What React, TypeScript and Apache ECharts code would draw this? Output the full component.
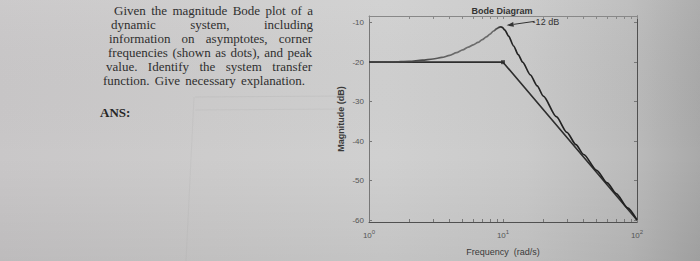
import React, { useEffect, useRef } from "react";
import * as echarts from "echarts";

// Bode magnitude curve (rad/s, dB)
const curveFreq = [1, 1.5, 2, 2.5, 3, 3.5, 4, 4.5, 5, 5.5, 6, 6.5, 7, 7.5, 8, 8.5, 9, 9.3, 9.6, 9.9, 10.3, 11, 12, 13, 14, 16, 18, 20, 25, 30, 35, 40, 50, 60, 70, 85, 100];
const curveMag = [-20, -19.95, -19.8, -19.5, -19.2, -18.8, -18.3, -17.6, -16.9, -16.2, -15.6, -15.0, -14.3, -13.6, -12.9, -12.1, -11.5, -11.2, -11.05, -11.2, -11.8, -13.4, -15.9, -18.1, -20.0, -23.2, -26.0, -28.6, -33.8, -37.8, -40.9, -43.4, -47.4, -50.6, -53.3, -56.9, -60];

// Asymptotes
const asymFreq = [1, 10, 100];
const asymMag = [-20, -20, -60];

// Corner frequency dot
const cornerFreq = [10];
const cornerMag = [-20];

// Peak annotation
const peakPoint = [9.6, -11.05];
const peakLabel = "-12 dB";

// Ticks
const xTickValues = [1, 2, 3, 4, 5, 6, 7, 8, 9, 10, 20, 30, 40, 50, 60, 70, 80, 90, 100];
const xLabelValues = [1, 10, 100];
const yLabelValues = [-60, -50, -40, -30, -20, -10];

const questionLines = [
  "Given the magnitude Bode plot of a",
  "dynamic system, including",
  "information on asymptotes, corner",
  "frequencies (shown as dots), and peak",
  "value. Identify the system transfer",
  "function. Give necessary explanation.",
];
const answerLabel = "ANS:";

const W = 700;
const H = 261;

export default function App() {
  const ref = useRef<HTMLDivElement>(null);

  useEffect(() => {
    if (!ref.current) return;
    const chart = echarts.init(ref.current, undefined, { renderer: "svg", width: W, height: H });

    const serif = "'Liberation Serif', 'Times New Roman', serif";
    const sans = "'Liberation Sans', Arial, sans-serif";
    const textColor = "#2f2f2f";

    // justified paragraph
    const canvas = document.createElement("canvas");
    const ctx = canvas.getContext("2d")!;
    ctx.font = "13px 'Liberation Serif'";
    const lineLeft = [114, 111, 109, 108, 106, 103];
    const lineRight = [313, 313, 312, 312, 312, 305];
    const lineY = [10, 24, 38.3, 52.7, 66.7, 80.7];
    const paraEls: any[] = [];
    questionLines.forEach((line, i) => {
      const words = line.split(" ");
      const widths = words.map((w) => ctx.measureText(w).width);
      const total = widths.reduce((a, b) => a + b, 0);
      const gap = words.length > 1 ? (lineRight[i] - lineLeft[i] - total) / (words.length - 1) : 0;
      let x = lineLeft[i];
      words.forEach((w, j) => {
        paraEls.push({
          type: "text",
          id: `w${i}_${j}`,
          x,
          y: lineY[i],
          silent: true,
          style: { text: w, fontFamily: serif, fontSize: 13, fill: textColor, verticalAlign: "middle", align: "left" },
        });
        x += widths[j] + gap;
      });
    });

    const bgEls: any[] = [
      {
        type: "rect",
        id: "bg",
        z: -100,
        silent: true,
        shape: { x: 0, y: 0, width: W, height: H },
        style: {
          fill: {
            type: "linear",
            x: 0,
            y: 0,
            x2: 1,
            y2: 0,
            colorStops: [
              { offset: 0, color: "#c9c7c8" },
              { offset: 0.3, color: "#cdcccc" },
              { offset: 0.55, color: "#d0d0d0" },
              { offset: 0.75, color: "#cacaca" },
              { offset: 0.9, color: "#bcbcbc" },
              { offset: 1, color: "#a9a9a9" },
            ],
          },
        },
      },
      {
        type: "rect",
        id: "bgv",
        z: -99,
        silent: true,
        shape: { x: 0, y: 0, width: W, height: H },
        style: {
          fill: {
            type: "linear",
            x: 0,
            y: 0,
            x2: 0,
            y2: 1,
            colorStops: [
              { offset: 0, color: "rgba(255,255,255,0.05)" },
              { offset: 0.6, color: "rgba(0,0,0,0)" },
              { offset: 1, color: "rgba(0,0,0,0.06)" },
            ],
          },
        },
      },
      { type: "line", id: "g1", z: -97, silent: true, shape: { x1: 195, y1: 97, x2: 345, y2: 96 }, style: { stroke: "rgba(150,150,150,0.15)", lineWidth: 1 } },
      { type: "line", id: "g2", z: -97, silent: true, shape: { x1: 195, y1: 110, x2: 345, y2: 109 }, style: { stroke: "rgba(150,150,150,0.12)", lineWidth: 1 } },
      { type: "line", id: "g3", z: -97, silent: true, shape: { x1: 194, y1: 97, x2: 186, y2: 261 }, style: { stroke: "rgba(150,150,150,0.12)", lineWidth: 1 } },
      {
        type: "text",
        id: "ans",
        x: 100,
        y: 112,
        silent: true,
        style: { text: answerLabel, fontFamily: serif, fontSize: 13, fontWeight: "bold", fill: "#262626", verticalAlign: "middle" },
      },
    ];

    const supFormatter = (v: number) => `{b|10}{s|${Math.round(Math.log10(v))}}`;
    const axisColor = "#505050";

    const option: any = {
      animation: false,
      title: {
        text: "Bode Diagram",
        left: 497,
        top: 1,
        textAlign: "center",
        textStyle: { fontSize: 9, fontWeight: "bold", color: "#333", fontFamily: sans },
      },
      grid: { left: 369, top: 16, width: 268, height: 208 },
      xAxis: [
        {
          type: "log",
          logBase: 10,
          min: 1,
          max: 100,
          position: "bottom",
          axisLine: { show: true, lineStyle: { color: axisColor, width: 1 } },
          axisTick: { show: true, inside: true, length: 3, customValues: xTickValues, lineStyle: { color: "#777" } },
          axisLabel: {
            customValues: xLabelValues,
            formatter: supFormatter,
            margin: 7,
            color: "#555",
            rich: {
              b: { fontSize: 8, fontFamily: sans, color: "#555", lineHeight: 12 },
              s: { fontSize: 6, fontFamily: sans, color: "#555", verticalAlign: "top", lineHeight: 12, padding: [0, 0, 6, 0] },
            },
          },
          splitLine: { show: false },
          name: "Frequency  (rad/s)",
          nameLocation: "middle",
          nameGap: 25,
          nameTextStyle: { fontSize: 9, fontFamily: sans, color: "#3a3a3a" },
        },
        {
          type: "log",
          logBase: 10,
          min: 1,
          max: 100,
          position: "top",
          axisLine: { show: true, lineStyle: { color: "#888", width: 1 } },
          axisTick: { show: true, inside: true, length: 3, customValues: xTickValues, lineStyle: { color: "#888" } },
          axisLabel: { show: false },
          splitLine: { show: false },
        },
      ],
      yAxis: [
        {
          type: "value",
          min: -60.5,
          max: -8.3,
          position: "left",
          axisLine: { show: true, lineStyle: { color: "#777", width: 1 } },
          axisTick: { show: true, inside: true, length: 3, customValues: yLabelValues, lineStyle: { color: "#777" } },
          axisLabel: { customValues: yLabelValues, formatter: (v: number) => String(v), fontSize: 8, fontFamily: sans, color: "#555", margin: 5 },
          splitLine: { show: false },
          name: "Magnitude (dB)",
          nameLocation: "middle",
          nameGap: 24,
          nameRotate: 90,
          nameTextStyle: { fontSize: 9, fontWeight: "bold", fontFamily: sans, color: "#3a3a3a" },
        },
        {
          type: "value",
          min: -60.5,
          max: -8.3,
          position: "right",
          axisLine: { show: true, lineStyle: { color: axisColor, width: 1 } },
          axisTick: { show: true, inside: true, length: 3, customValues: yLabelValues, lineStyle: { color: "#777" } },
          axisLabel: { show: false },
          splitLine: { show: false },
        },
      ],
      series: [
        {
          type: "line",
          name: "asymptote",
          data: asymFreq.map((f, i) => [f, asymMag[i]]),
          symbol: "none",
          lineStyle: { color: "#2e2e2e", width: 1.6 },
          z: 3,
        },
        {
          type: "line",
          name: "magnitude",
          data: curveFreq.map((f, i) => [f, curveMag[i]]),
          symbol: "none",
          smooth: 0.25,
          smoothMonotone: "x",
          lineStyle: {
            width: 1.7,
            color: {
              type: "linear",
              x: 0,
              y: 0,
              x2: 1,
              y2: 0,
              colorStops: [
                { offset: 0, color: "#3e3e3e" },
                { offset: 0.2, color: "#4a4a4a" },
                { offset: 0.33, color: "#6e6e6e" },
                { offset: 0.46, color: "#6a6a6a" },
                { offset: 0.5, color: "#242424" },
                { offset: 1, color: "#202020" },
              ],
            },
          },
          z: 4,
        },
        {
          type: "scatter",
          name: "corner",
          data: cornerFreq.map((f, i) => [f, cornerMag[i]]),
          symbol: "rect",
          symbolSize: 4,
          itemStyle: { color: "#2a2a2a" },
          z: 5,
        },
      ],
      graphic: [...bgEls, ...paraEls],
    };

    chart.setOption(option);

    const p = chart.convertToPixel({ xAxisIndex: 0, yAxisIndex: 0 }, peakPoint) as number[];
    const tip = [p[0] + 6, p[1] - 1.5];
    const tail = [tip[0] + 28, tip[1] - 4];
    const dx = tip[0] - tail[0];
    const dy = tip[1] - tail[1];
    const len = Math.sqrt(dx * dx + dy * dy);
    const ux = dx / len;
    const uy = dy / len;
    const hl = 7;
    const hw = 2.5;
    const base = [tip[0] - ux * hl, tip[1] - uy * hl];
    const annEls = [
      { type: "line", id: "arrowLine", silent: true, z: 10, shape: { x1: base[0], y1: base[1], x2: tail[0], y2: tail[1] }, style: { stroke: "#333", lineWidth: 1 } },
      {
        type: "polygon",
        id: "arrowHead",
        silent: true,
        z: 10,
        shape: {
          points: [
            [tip[0], tip[1]],
            [base[0] - uy * hw, base[1] + ux * hw],
            [base[0] + uy * hw, base[1] - ux * hw],
          ],
        },
        style: { fill: "#333" },
      },
      {
        type: "text",
        id: "arrowText",
        silent: true,
        z: 10,
        x: tail[0] - 2,
        y: tail[1] + 1,
        style: { text: peakLabel, fontFamily: sans, fontSize: 9, fill: "#333", verticalAlign: "middle", align: "left" },
      },
    ];
    chart.setOption({ graphic: [...bgEls, ...paraEls, ...annEls] });

    return () => {
      chart.dispose();
    };
  }, []);

  return <div ref={ref} style={{ position: "absolute", left: 0, top: 0, width: W, height: H }} />;
}
